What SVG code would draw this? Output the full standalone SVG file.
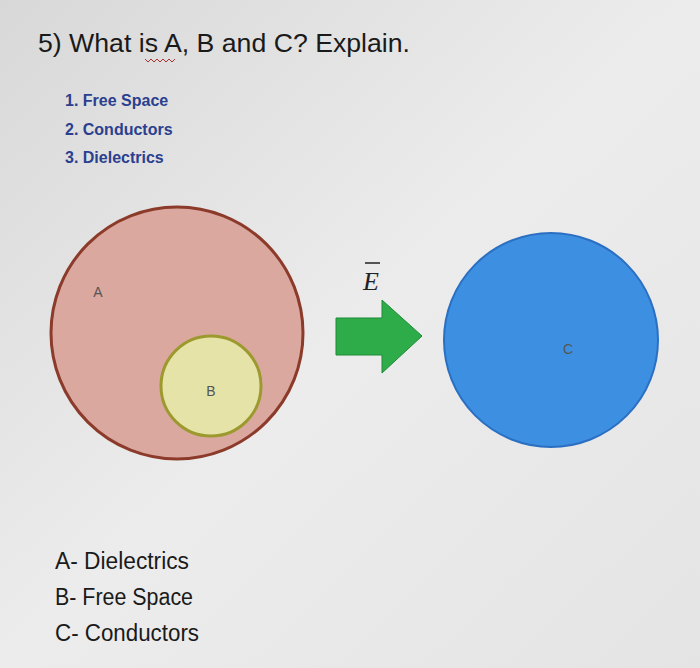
<svg xmlns="http://www.w3.org/2000/svg" width="700" height="668" viewBox="0 0 700 668">
<defs>
<linearGradient id="bg" x1="0" y1="0" x2="1" y2="1">
<stop offset="0" stop-color="#d8d8d8"/><stop offset="0.5" stop-color="#ececec"/><stop offset="1" stop-color="#e4e4e4"/>
</linearGradient>
<style>
.t{font-family:"Liberation Sans","Open Sans",sans-serif;fill:#1a1a1a}
.l{font-family:"Liberation Sans",sans-serif;font-size:16px;font-weight:bold;fill:#2b3f8f}
.n{font-family:"Liberation Sans",sans-serif;font-size:14px;fill:#555}
</style>
</defs>
<rect width="700" height="668" fill="url(#bg)"/>
<text class="t" x="38" y="52" font-size="25" textLength="372" lengthAdjust="spacingAndGlyphs">5) What is A, B and C? Explain.</text>
<path d="M145 59 l3 3 l3 -3 l3 3 l3 -3 l3 3 l3 -3 l3 3 l3 -3 l3 3 l3 -3" fill="none" stroke="#b03030" stroke-width="1"/>
<g id="list">
<text class="l" x="65" y="106">1. Free Space</text>
<text class="l" x="65" y="135">2. Conductors</text>
<text class="l" x="65" y="163">3. Dielectrics</text>
</g>
<g id="A">
<circle cx="177" cy="333" r="126" fill="#dba89f" stroke="#8c3b2b" stroke-width="3"/>
<text class="n" x="98" y="297" text-anchor="middle">A</text>
</g>
<g id="B">
<circle cx="211" cy="386" r="50" fill="#e6e3a8" stroke="#9c9a2e" stroke-width="3"/>
<text class="n" x="211" y="396" text-anchor="middle">B</text>
</g>
<g id="arrow">
<polygon points="336,318 382,318 382,300 422,336 382,373 382,355 336,355" fill="#2eac4a" stroke="#1f8a36" stroke-width="1"/>
<text x="371" y="290" font-family="Liberation Serif,serif" font-style="italic" font-size="26" fill="#222" text-anchor="middle">E</text>
<line x1="365" y1="263" x2="380" y2="263" stroke="#222" stroke-width="1.5"/>
</g>
<g id="C">
<circle cx="551" cy="340" r="107" fill="#3d8fe2" stroke="#2a6fc2" stroke-width="2"/>
<text class="n" x="568" y="354" text-anchor="middle" fill="#222">C</text>
</g>
<g id="answers">
<text class="t" x="55" y="569" font-size="23" textLength="134" lengthAdjust="spacingAndGlyphs">A- Dielectrics</text>
<text class="t" x="55" y="605" font-size="23" textLength="138" lengthAdjust="spacingAndGlyphs">B- Free Space</text>
<text class="t" x="55" y="641" font-size="23" textLength="144" lengthAdjust="spacingAndGlyphs">C- Conductors</text>
</g>
</svg>
